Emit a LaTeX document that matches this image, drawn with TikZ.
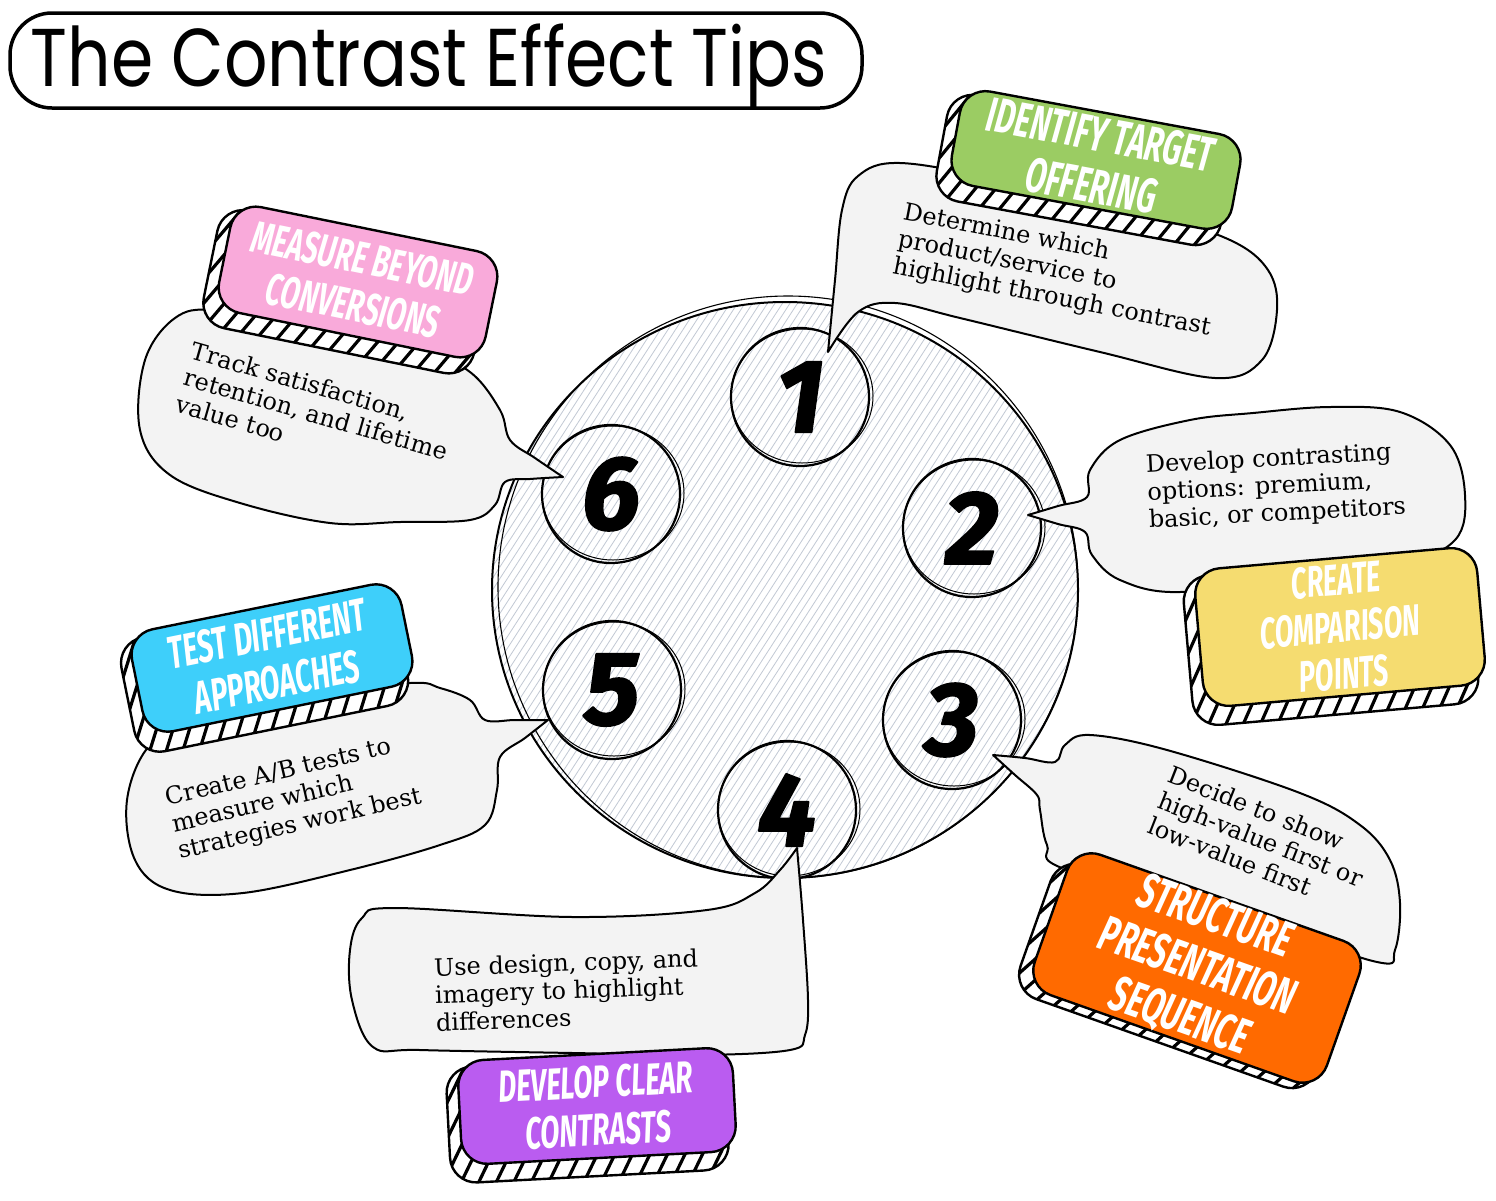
\documentclass[tikz,border=0pt]{standalone}
\usepackage{fontspec}
\setmainfont{DejaVu Serif}
\newfontfamily\titlefont{Poppins}[FakeStretch=0.83]
\newfontfamily\numfont{Fira Sans}[BoldItalicFeatures={FakeBold=2}]
\newfontfamily\bannerfont{Fira Sans}[FakeStretch=0.62]
\definecolor{cgreen}{RGB}{155,204,99}
\definecolor{cpink}{RGB}{249,170,218}
\definecolor{cyellow}{RGB}{245,220,112}
\definecolor{corange}{RGB}{255,106,0}
\definecolor{cpurple}{RGB}{186,92,240}
\definecolor{cblue}{RGB}{62,207,250}
\definecolor{bubblegray}{RGB}{243,243,243}
\definecolor{hatchc}{RGB}{194,201,212}
\tikzset{
  hatch/.style={draw=hatchc, line width=0.8pt},
  numc/.style={circle, draw, line width=2.2pt, minimum size=138pt, inner sep=0pt,
    font=\numfont\bfseries\itshape\fontsize{104}{104}\selectfont},
  bubble/.style={fill=bubblegray, draw=black, line width=2pt},
  btext/.style={align=left, inner sep=0pt, font=\fontsize{24}{27.5}\selectfont},
  bannerbox/.style={rounded corners=26pt, draw, line width=2.4pt, text=white,
    align=center, inner sep=0pt},
}
% #1 name, #2 x, #3 y, #4 angle, #5 width, #6 height, #7 colour, #8 font size, #9 text
\newcommand{\banner}[9]{%
  \begin{scope}[shift={(#2,#3)}, rotate=#4]
    \begin{scope}
      \clip[rounded corners=26pt] ({-#5/2-12},{-#6/2+6}) rectangle ({#5/2-8},{#6/2+18});
      \fill[white] ({-#5/2-12},{-#6/2+6}) rectangle ({#5/2-8},{#6/2+18});
      \foreach \k in {-30,...,30}
        \draw[line width=3.2pt] ({\k*18},{#6/2+25}) -- ({\k*18+0.55*(#6+50)},{-#6/2-25});
    \end{scope}
    \draw[line width=2.4pt, rounded corners=26pt] ({-#5/2-12},{-#6/2+6}) rectangle ({#5/2-8},{#6/2+18});
    \node[bannerbox, fill=#7, minimum width=#5pt, minimum height=#6pt, transform shape,
      font=\bannerfont\bfseries\itshape\fontsize{#8}{\the\numexpr#8+3\relax}\selectfont] (#1) at (0,0) {#9};
  \end{scope}}
\begin{document}
\begin{tikzpicture}[x=1pt,y=-1pt,line join=round,line cap=round]
\useasboundingbox (0,0) rectangle (1496,1200);
\fill[white] (0,0) rectangle (1496,1200);

% title
\draw[line width=3.5pt, rounded corners=42pt] (10,13) rectangle (862,108);
\node[font=\titlefont\fontsize{82}{90}\selectfont] (title) at (429,66) {The Contrast Effect Tips};

% main circle
\begin{scope}
  \clip (785,590) ellipse [x radius=293, y radius=288];
  \foreach \k in {-105,...,105}
    \draw[hatch] ({785+\k*7.5-200},900) -- ({785+\k*7.5+200},280);
\end{scope}
\draw[line width=2pt] (785,590) ellipse [x radius=293, y radius=288];
\draw[line width=1.1pt] (788,587) ellipse [x radius=290, y radius=291];

% number circles
\foreach \n/\x/\y in {1/800/397, 2/972/528, 3/952/720, 4/787/810, 5/612/690, 6/611/494} {
  \node[numc] (c\n) at (\x,\y) {\n};
  \draw[line width=1pt] (\x+2,\y-1) ellipse [x radius=71, y radius=67];
}

% bubbles
\draw[bubble] plot[smooth, tension=0.6] coordinates {(828,352) (835,280) (842,210) (858,176) (900,163) (1000,180) (1150,215) (1230,240) (1268,270) (1277,310) (1262,360) (1215,378) (1100,352) (960,318) (895,303) (858,312) (828,352)};
\draw[bubble] plot[smooth, tension=0.6] coordinates {(563,477) (530,479) (505,482) (495,505) (470,520) (400,522) (330,523) (240,503) (170,475) (140,430) (145,360) (175,318) (215,310) (300,325) (420,350) (470,372) (500,410) (510,440) (535,458) (563,477)};
\draw[bubble] plot[smooth, tension=0.6] coordinates {(1028,515) (1058,506) (1087,497) (1090,470) (1120,440) (1190,420) (1253,413) (1330,407) (1400,412) (1450,445) (1465,495) (1455,540) (1400,565) (1300,575) (1180,592) (1120,580) (1092,555) (1085,532) (1058,524) (1028,515)};
\draw[bubble] plot[smooth, tension=0.6] coordinates {(993,755) (1025,758) (1055,762) (1065,745) (1090,735) (1167,750) (1300,793) (1360,825) (1390,860) (1400,903) (1395,950) (1377,962) (1250,920) (1067,870) (1047,845) (1040,810) (1037,795) (1015,775) (993,755)};
\draw[bubble] plot[smooth, tension=0.6] coordinates {(797,848) (803,920) (808,1000) (805,1035) (790,1050) (700,1055) (573,1053) (420,1050) (373,1047) (352,1000) (350,950) (362,918) (395,908) (573,917) (707,910) (755,893) (780,870) (797,848)};
\draw[bubble] plot[smooth, tension=0.6] coordinates {(548,720) (515,720) (485,720) (470,700) (440,688) (410,683) (300,695) (200,720) (150,745) (127,800) (135,860) (170,890) (243,893) (350,870) (440,845) (485,825) (497,790) (500,757) (525,738) (548,720)};

% bubble texts
\node[btext, rotate=-11] (d1) at (1057,271) {Determine which\\product/service to\\highlight through contrast};
\node[btext, rotate=-16] (d6) at (316,414) {Track satisfaction,\\retention, and lifetime\\value too};
\node[btext, rotate=3] (d2) at (1276,487) {Develop contrasting\\options: premium,\\basic, or competitors};
\node[btext, rotate=-21.5] (d3) at (1261,839) {Decide to show\\high-value first or\\low-value first};
\node[btext, rotate=2] (d4) at (567,990) {Use design, copy, and\\imagery to highlight\\differences};
\node[btext, rotate=13] (d5) at (294,798) {Create A/B tests to\\measure which\\strategies work best};

% banners
\banner{b1}{1096}{160}{-10.5}{285}{96}{cgreen}{49}{IDENTIFY TARGET\\OFFERING}
\banner{b6}{358}{282}{-11.5}{272}{108}{cpink}{45}{MEASURE BEYOND\\CONVERSIONS}
\banner{b5}{272}{658}{11.5}{275}{104}{cblue}{46}{TEST DIFFERENT\\APPROACHES}
\banner{b2}{1340}{627}{5}{283}{138}{cyellow}{44}{CREATE\\COMPARISON\\POINTS}
\banner{b3}{1197}{968}{-19.5}{310}{130}{corange}{50}{STRUCTURE\\PRESENTATION\\SEQUENCE}
\banner{b4}{597}{1106}{3}{275}{104}{cpurple}{45}{DEVELOP CLEAR\\CONTRASTS}
\end{tikzpicture}
\end{document}
